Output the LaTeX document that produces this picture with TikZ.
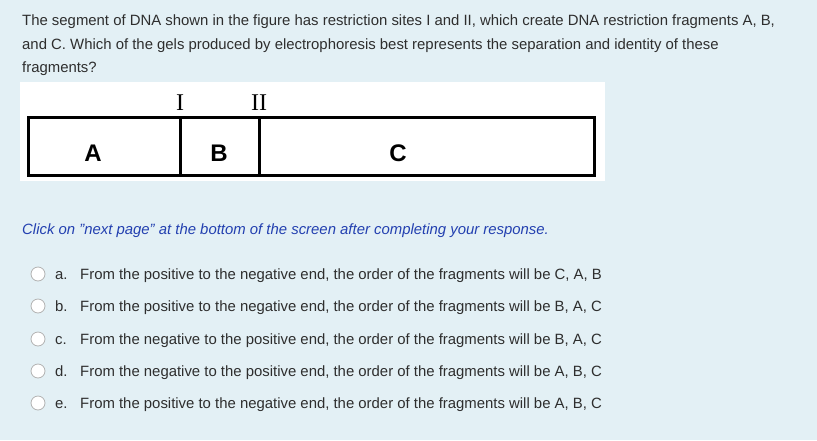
\documentclass[tikz,border=0pt]{standalone}
\usepackage{fontspec}
\setmainfont{Liberation Sans}
\newfontfamily\serifI{Liberation Serif}
\definecolor{bg}{HTML}{E3F0F5}
\definecolor{txt}{HTML}{2E2E2E}
\definecolor{blu}{HTML}{2340B0}
\tikzset{
  qtext/.style={anchor=base west,inner sep=0pt,text=txt,font=\fontsize{14.9}{16}\selectfont},
  opt/.style={anchor=base west,inner sep=0pt,text=txt,font=\fontsize{14.9}{16}\selectfont},
  radio/.style={circle,draw=gray!60,fill=white,minimum size=14pt,inner sep=0pt,line width=0.8pt},
  frag/.style={font=\fontsize{24}{26}\selectfont\bfseries,inner sep=0pt},
  site/.style={font=\serifI\fontsize{24}{26}\selectfont,inner sep=0pt}
}
\begin{document}
\begin{tikzpicture}[x=1pt,y=-1pt]
\fill[bg] (0,0) rectangle (817,440);
\useasboundingbox (0,0) rectangle (817,440);
\node[qtext] (q1) at (22,25) {The segment of DNA shown in the figure has restriction sites I and II, which create DNA restriction fragments A, B,};
\node[qtext] (q2) at (22,49) {and C. Which of the gels produced by electrophoresis best represents the separation and identity of these};
\node[qtext] (q3) at (22,72) {fragments?};
\fill[white] (20,82) rectangle (605,181);
\draw[line width=3pt] (28,117) rectangle (594,175);
\draw[line width=3pt] (180,117) -- (180,175);
\draw[line width=3pt] (259,117) -- (259,175);
\node[site] (s1) at (180,103) {I};
\node[site] (s2) at (259,103) {II};
\node[frag] (fa) at (93,153) {A};
\node[frag] (fb) at (219,153) {B};
\node[frag] (fc) at (398,153) {C};
\node[opt,text=blu,font=\fontsize{14.9}{16}\selectfont\itshape] (ins) at (22,234) {Click on \symbol{34}next page\symbol{34} at the bottom of the screen after completing your response.};
\foreach \y/\l/\t in {274/a./{From the positive to the negative end, the order of the fragments will be C, A, B},
  306/b./{From the positive to the negative end, the order of the fragments will be B, A, C},
  339/c./{From the negative to the positive end, the order of the fragments will be B, A, C},
  371/d./{From the negative to the positive end, the order of the fragments will be A, B, C},
  403/e./{From the positive to the negative end, the order of the fragments will be A, B, C}}{
  \node[radio] (r\l) at (38,\y) {};
  \node[opt] (l\l) at (55,\y+5) {\l};
  \node[opt] (t\l) at (80,\y+5) {\t};
}
\end{tikzpicture}
\end{document}
